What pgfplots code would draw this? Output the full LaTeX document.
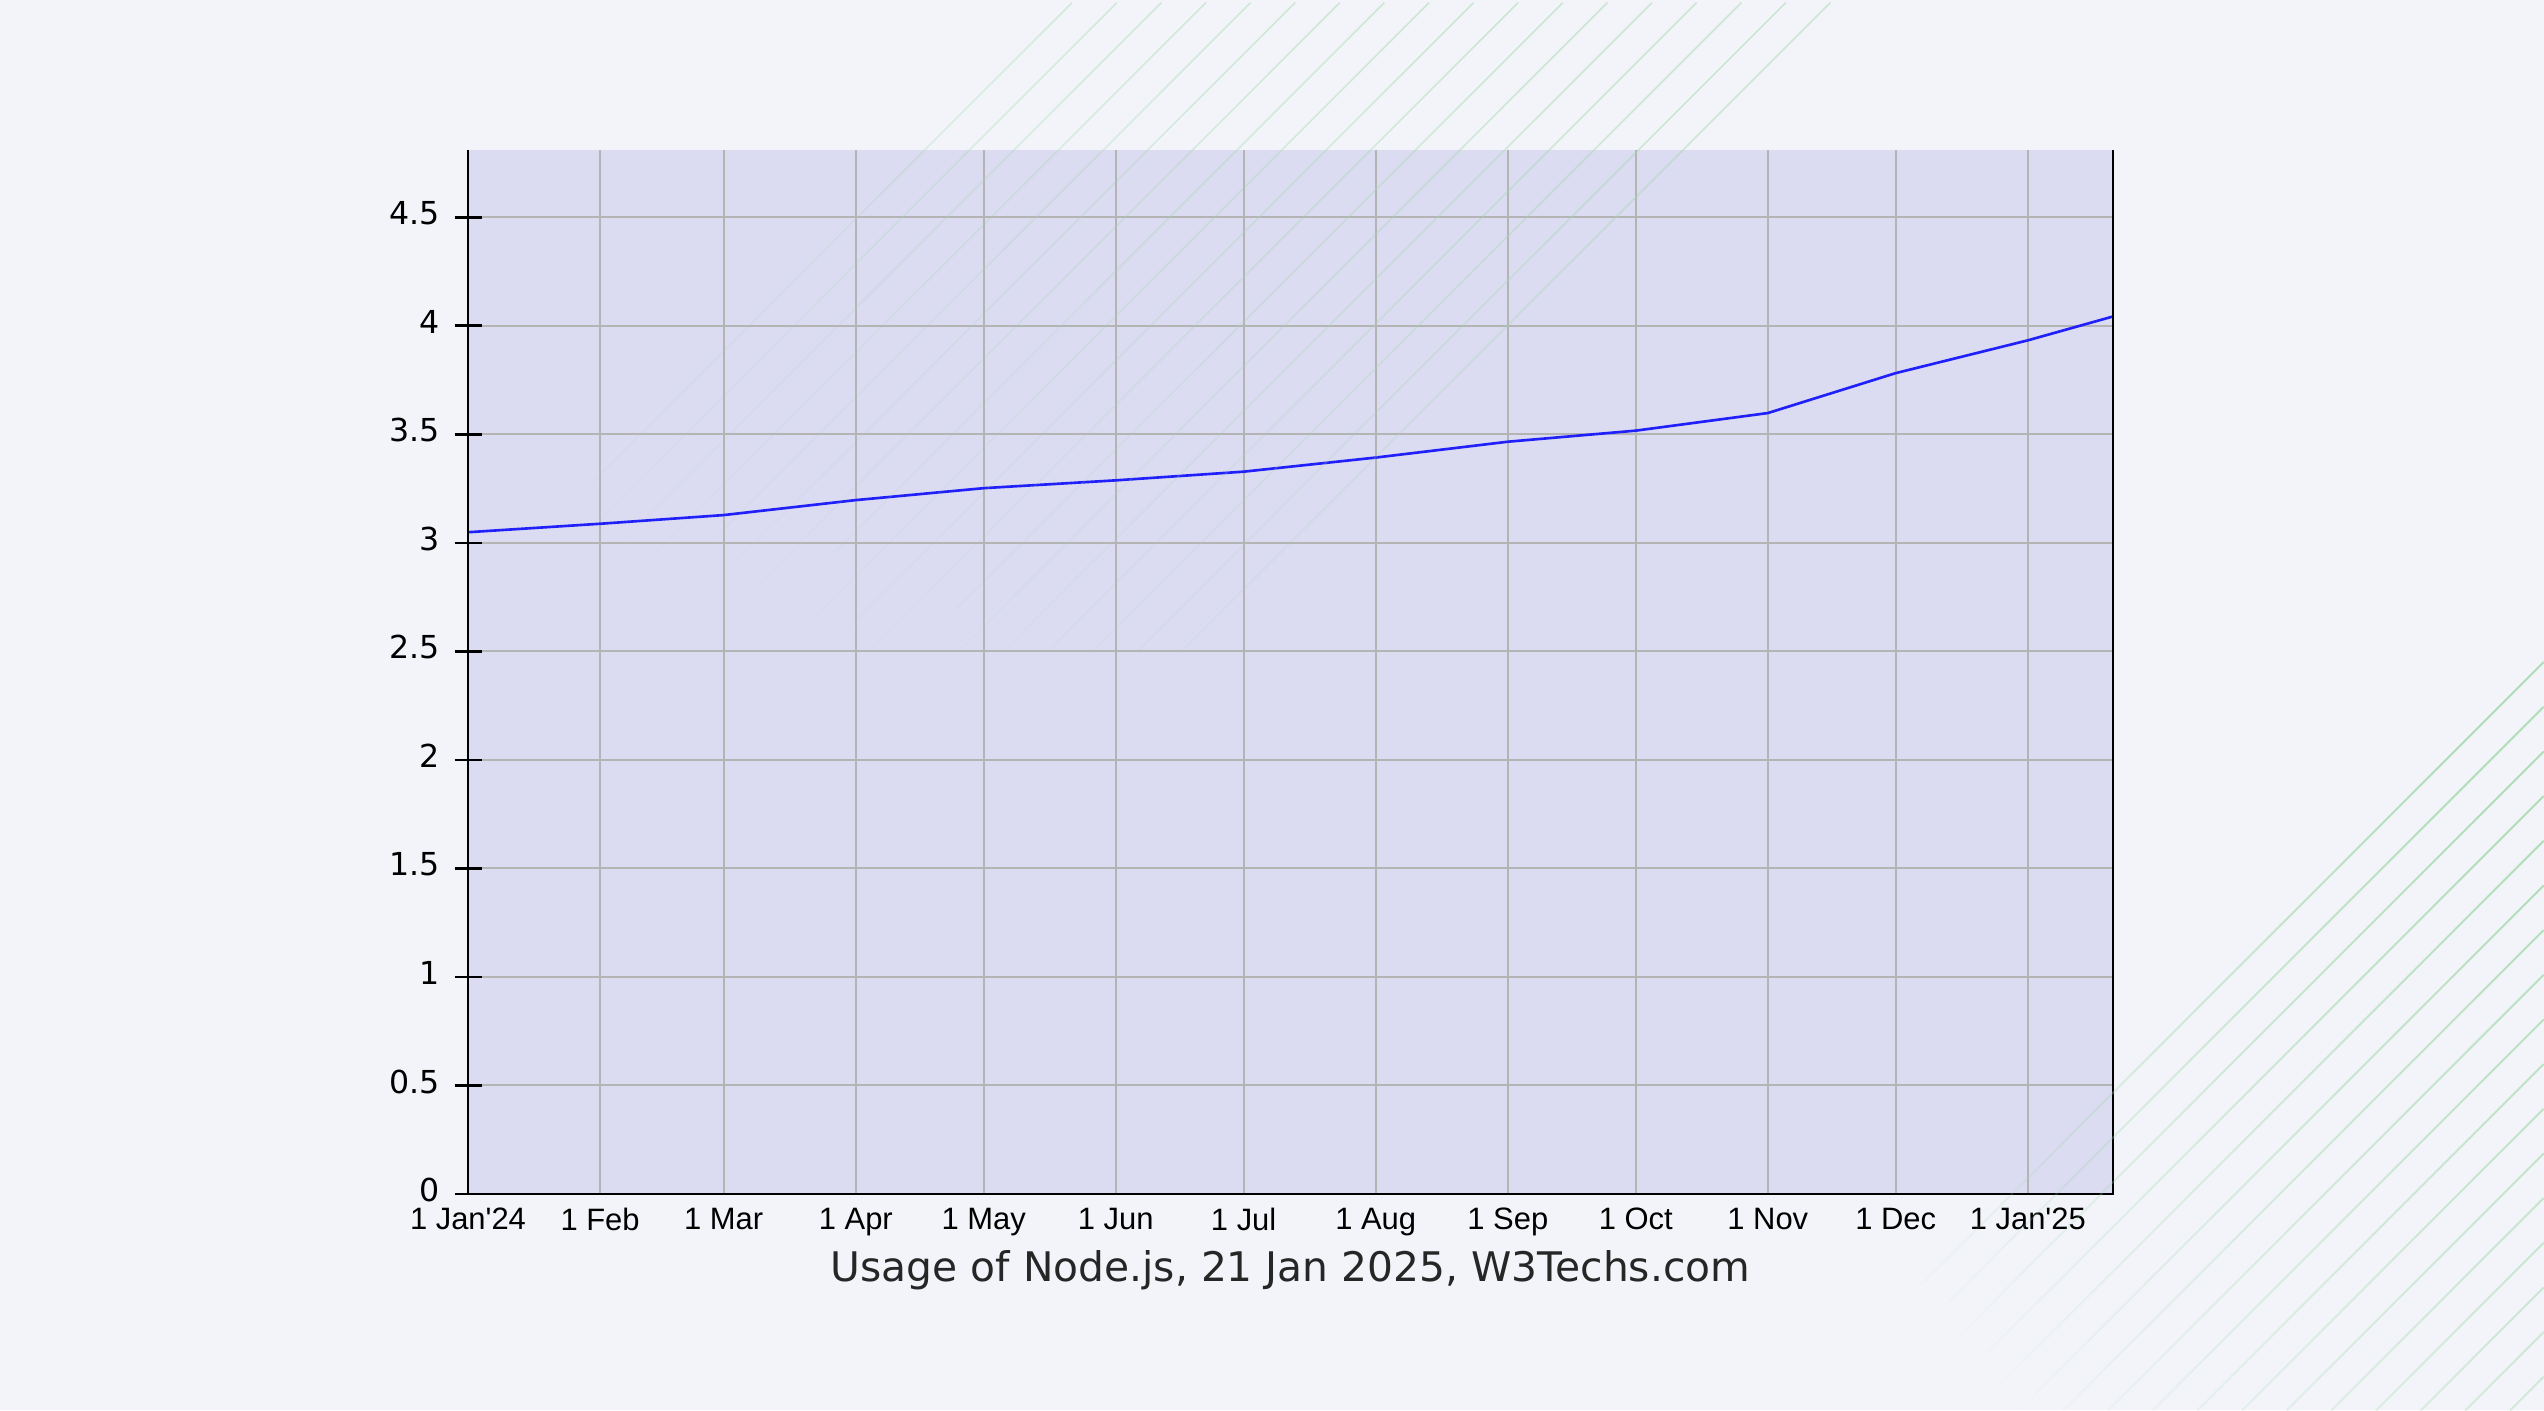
\documentclass[border=0pt]{standalone}
\usepackage{fontspec}
\setmainfont{DejaVu Sans}
\newfontfamily\arialf{Liberation Sans}
\usepackage{pgfplots}
\pgfplotsset{compat=1.18}
\usetikzlibrary{fadings}
\definecolor{pagebg}{RGB}{242,244,249}
\definecolor{plotbg}{RGB}{219,219,242}
\definecolor{gridc}{RGB}{180,180,180}
\definecolor{lineblue}{RGB}{32,32,250}
\definecolor{decogreen}{RGB}{165,218,172}
\tikzfading[name=fadeLL, left color=transparent!100, right color=transparent!0]
\begin{document}
\begin{tikzpicture}
\path[use as bounding box, fill=pagebg] (0,0) rectangle (25.44cm,14.10cm);
\begin{axis}[
  at={(4.68cm,2.16cm)}, anchor=south west,
  scale only axis, width=16.45cm, height=10.44cm,
  xmin=0, xmax=386, ymin=0, ymax=4.81,
  axis background/.style={fill=plotbg},
  axis line style={draw=none},
  grid=major,
  major grid style={gridc, line width=0.57pt},
  xtick={0,31,60,91,121,152,182,213,244,274,305,335,366},
  xticklabels={1 Jan'24,1 Feb,1 Mar,1 Apr,1 May,1 Jun,1 Jul,1 Aug,1 Sep,1 Oct,1 Nov,1 Dec,1 Jan'25},
  ytick={0,0.5,1,1.5,2,2.5,3,3.5,4,4.5},
  yticklabels={0,0.5,1,1.5,2,2.5,3,3.5,4,4.5},
  xtick pos=bottom, ytick pos=left,
  x tick style={draw=none},
  y tick style={black, line width=0.77pt},
  tick align=center,
  major tick length=0.27cm,
  xticklabel style={font=\arialf\fontsize{8.8}{10}\selectfont, anchor=north, inner sep=0pt, yshift=0.0cm},
  yticklabel style={font=\fontsize{9}{10}\selectfont, anchor=east, inner sep=0pt, xshift=-0.14cm, yshift=0.04cm},
  clip=false,
]
\addplot[lineblue, line width=0.75pt] coordinates {
  (0,3.049) (31,3.088) (60,3.128) (91,3.197) (121,3.252) (152,3.288)
  (182,3.328) (213,3.393) (244,3.466) (274,3.517) (305,3.598)
  (335,3.782) (366,3.933) (386,4.043)
};
\draw[black, line width=0.8pt] (rel axis cs:0,1) -- (rel axis cs:0,0) -- (rel axis cs:1,0) -- (rel axis cs:1,1);
\node[font=\fontsize{11.6}{13}\selectfont, anchor=base, text=black!85] at (rel axis cs:0.5,0) [yshift=-0.87cm] {Usage of Node.js, 21 Jan 2025, W3Techs.com};
\end{axis}
% decorative background stripes
\draw[decogreen, line width=0.45pt, opacity=0.5, path fading=fadeLL, fading angle=45]
  foreach \k in {0,...,17} { ({(1072+44.7*\k)/100},14.10) -- ({(1072+44.7*\k-650)/100},{14.10-6.5}) };
\draw[decogreen, line width=0.55pt, opacity=0.85, path fading=fadeLL, fading angle=45]
  foreach \k in {0,...,16} { (25.44,{14.10-(3205+44.7*\k-2544)/100}) -- ({(3205+44.7*\k-1410)/100},0) };
\end{tikzpicture}
\end{document}
